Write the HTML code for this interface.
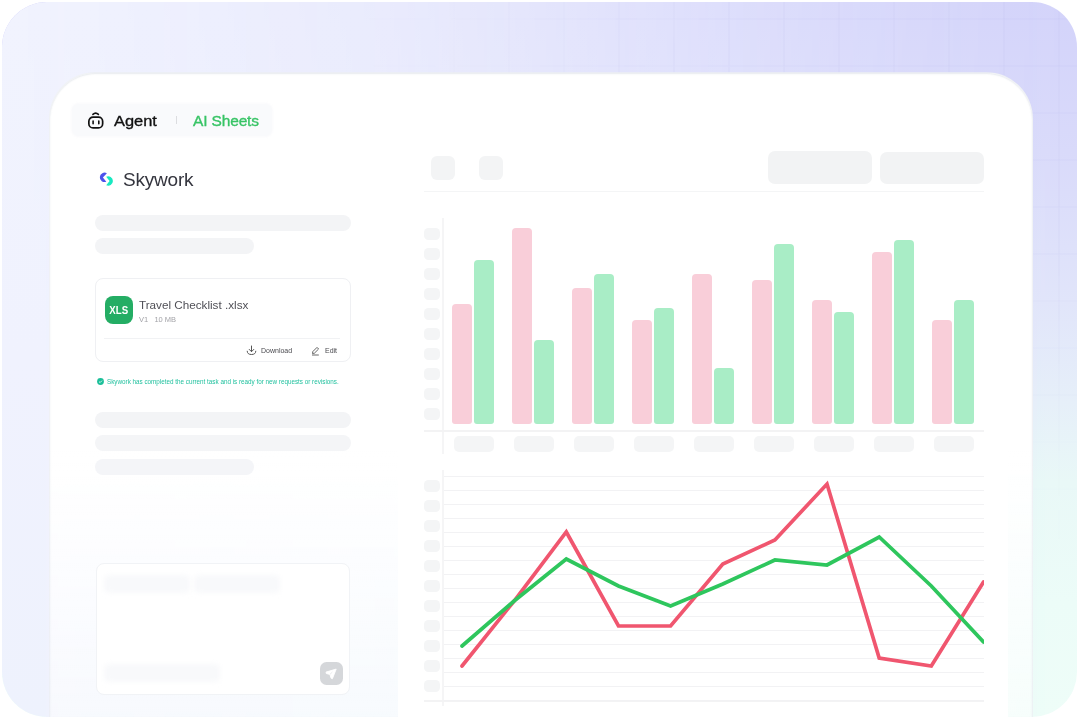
<!DOCTYPE html>
<html>
<head>
<meta charset="utf-8">
<style>
*{margin:0;padding:0;box-sizing:border-box;}
html,body{width:1080px;height:720px;overflow:hidden;background:#fff;}
body{position:relative;font-family:"Liberation Sans",sans-serif;}
.abs{position:absolute;}
.outer{left:2px;top:2px;width:1075px;height:715px;border-radius:45px;overflow:hidden;
  background:linear-gradient(to bottom, #d3d3fa 0px, #d9dafa 150px, #e1e5fa 300px, #e6eff9 400px, #e9f8f7 480px, #ecfcf8 600px, #eefdf8 715px);}
.leftov{left:2px;top:2px;width:1075px;height:715px;border-radius:45px;overflow:hidden;
  background:linear-gradient(to bottom, #f1f3fe 0%, #f0f2fe 50%, #eef2fd 100%);
  -webkit-mask-image:linear-gradient(to right, #000 0%, rgba(0,0,0,0.75) 35%, rgba(0,0,0,0.2) 80%, transparent 100%);}
.grid{left:2px;top:2px;width:1075px;height:715px;border-radius:45px;overflow:hidden;
  background-image:linear-gradient(to right, rgba(110,110,190,0.05) 1px, transparent 1px),
                   linear-gradient(to bottom, rgba(110,110,190,0.04) 1px, transparent 1px);
  background-size:55px 47px;background-position:11.5px 16.5px;
  -webkit-mask-image:radial-gradient(ellipse 750px 560px at 100% 0%, #000 45%, transparent 100%);}
.card{left:49px;top:72px;width:984px;height:645px;border-radius:47px 47px 0 0;
  border:1px solid rgba(226,229,236,0.5);border-bottom:none;background-clip:padding-box;
  background:linear-gradient(to bottom,#fff 0px,#fff 378px,rgba(255,255,255,0.55) 645px);
  box-shadow:inset 0 1px 1.5px rgba(205,210,220,0.45);}
.chartpanel{left:398px;top:140px;width:610px;height:580px;background:#fff;}
.tabbar{left:72px;top:103.5px;width:200px;height:32.5px;border-radius:7px;background:#f9fafc;box-shadow:0 0 2px 0.5px rgba(249,250,252,0.9);}
.tab{font-size:15.5px;line-height:16px;top:113px;-webkit-text-stroke:0.35px currentColor;}
.sk{background:#f3f4f6;border-radius:8px;height:16px;}
.filecard{left:95px;top:278px;width:256px;height:84px;border:1px solid #eff0f3;border-radius:8px;background:#fff;}
.ylab{background:#f4f5f6;border-radius:4.5px;width:16px;height:12px;left:424px;}
.xlab{background:#f4f5f6;border-radius:5px;width:40px;height:16px;top:436px;}
.bar{border-radius:4px 4px 3px 3px;width:20px;}
.p{background:#f9ced9;}
.g{background:#a9edc6;}
</style>
</head>
<body>
<div class="abs outer"></div>
<div class="abs leftov"></div>
<div class="abs grid"></div>
<div class="abs card"></div>
<div class="abs chartpanel"></div>

<!-- tab bar -->
<div class="abs tabbar"></div>
<svg class="abs" style="left:86px;top:110px" width="20" height="20" viewBox="0 0 20 20">
  <path d="M6.9 4.4 A4 4 0 0 1 12.4 4.4" fill="none" stroke="#111" stroke-width="1.6" stroke-linecap="round"/>
  <rect x="2.85" y="7.05" width="13.8" height="10.9" rx="4.2" fill="none" stroke="#111" stroke-width="1.7"/>
  <rect x="6.3" y="10.2" width="1.6" height="4.3" rx="0.8" fill="#111"/>
  <rect x="12" y="10.2" width="1.6" height="4.3" rx="0.8" fill="#111"/>
</svg>
<div class="abs tab" style="left:114px;color:#111;transform:scaleX(1.06);transform-origin:0 0;">Agent</div>
<div class="abs" style="left:176px;top:116px;width:1px;height:8px;background:#dcdde0;"></div>
<div class="abs tab" style="left:193px;color:#38c466;letter-spacing:-0.15px;">AI Sheets</div>

<!-- logo -->
<svg class="abs" style="left:96px;top:168px" width="22" height="22" viewBox="96 168 22 22">
  <path d="M106.9 173.3 A4.7 4.7 0 1 0 106.3 181.7 L102.9 177.5 Z" fill="#4c52ec"/>
  <path d="M106.2 176.8 A4.7 4.7 0 1 1 106.2 185.3 L109.6 181.05 Z" fill="#17e9c1"/>
</svg>
<div class="abs" style="left:123px;top:170px;font-size:19px;line-height:20px;color:#34353e;letter-spacing:-0.2px;">Skywork</div>

<!-- skeleton top -->
<div class="abs sk" style="left:95px;top:215px;width:256px;"></div>
<div class="abs sk" style="left:95px;top:238px;width:159px;"></div>

<!-- file card -->
<div class="abs filecard"></div>
<div class="abs" style="left:105px;top:296px;width:28px;height:28px;border-radius:8px;background:#24ad64;color:#fff;font-weight:bold;font-size:11px;line-height:29px;text-align:center;"><span style="display:inline-block;transform:scaleX(0.88);">XLS</span></div>
<div class="abs" style="left:139px;top:298.7px;font-size:11.7px;line-height:12px;color:#505057;">Travel Checklist .xlsx</div>
<div class="abs" style="left:139px;top:315.5px;font-size:7.5px;line-height:8px;color:#a3a3a8;">V1 &nbsp;&nbsp;10 MB</div>
<div class="abs" style="left:104px;top:338px;width:236px;height:1px;background:#f1f2f4;"></div>
<svg class="abs" style="left:246px;top:345px" width="11" height="11" viewBox="0 0 11 11">
  <path d="M5.5 1 V6.5 M3.2 4.4 L5.5 6.7 L7.8 4.4" fill="none" stroke="#555" stroke-width="1" stroke-linecap="round" stroke-linejoin="round"/>
  <path d="M1.2 6.2 Q1.2 9.5 5.5 9.5 Q9.8 9.5 9.8 6.2" fill="none" stroke="#555" stroke-width="1" stroke-linecap="round"/>
</svg>
<div class="abs" style="left:261px;top:347px;font-size:7px;line-height:8px;color:#4a4a4f;">Download</div>
<svg class="abs" style="left:311px;top:346px" width="9" height="10" viewBox="0 0 9 10">
  <path d="M1.5 7.5 L1.8 5.6 L6 1.4 L7.6 3 L3.4 7.2 Z" fill="none" stroke="#555" stroke-width="0.9" stroke-linejoin="round"/>
  <path d="M1 9 H7.8" stroke="#555" stroke-width="0.9"/>
</svg>
<div class="abs" style="left:325px;top:347px;font-size:7px;line-height:8px;color:#4a4a4f;">Edit</div>

<!-- status -->
<svg class="abs" style="left:97px;top:377.7px" width="7" height="7" viewBox="0 0 7 7">
  <circle cx="3.5" cy="3.5" r="3.4" fill="#1bbf99"/>
  <path d="M2 3.6 L3.1 4.6 L5 2.6" fill="none" stroke="#fff" stroke-width="0.8"/>
</svg>
<div class="abs" style="left:107px;top:378px;font-size:6.3px;line-height:7px;color:#22c19f;white-space:nowrap;">Skywork has completed the current task and is ready for new requests or revisions.</div>

<!-- skeleton bottom -->
<div class="abs sk" style="left:95px;top:412px;width:256px;"></div>
<div class="abs sk" style="left:95px;top:435px;width:256px;background:#f4f5f7;"></div>
<div class="abs sk" style="left:95px;top:459px;width:159px;background:#f4f5f8;"></div>

<!-- input box -->
<div class="abs" style="left:96px;top:563px;width:254px;height:132px;border:1px solid #f1f3f6;border-radius:8px;background:#fff;"></div>
<div class="abs" style="left:104px;top:575px;width:86px;height:18px;border-radius:5px;background:#f8f9fb;filter:blur(2.5px);"></div>
<div class="abs" style="left:194px;top:575px;width:86px;height:18px;border-radius:5px;background:#f8f9fb;filter:blur(2.5px);"></div>
<div class="abs" style="left:104px;top:664px;width:116px;height:18px;border-radius:5px;background:#f8f9fb;filter:blur(2.5px);"></div>
<div class="abs" style="left:320px;top:662px;width:23px;height:23px;border-radius:6.5px;background:#d5d7da;"></div>
<svg class="abs" style="left:320px;top:662px" width="23" height="23" viewBox="0 0 23 23">
  <path d="M16.2 7.1 L6 10.1 L6.3 11.5 L9.9 12.4 L11.1 16.2 L12.4 16.7 Z" fill="#fff" stroke="#fff" stroke-width="0.9" stroke-linejoin="round"/><path d="M9.9 12.4 L12.4 10" stroke="#dcdde0" stroke-width="0.6"/>
</svg>

<!-- chart header -->
<div class="abs" style="left:431px;top:156px;width:24px;height:24px;border-radius:6px;background:#f3f4f5;"></div>
<div class="abs" style="left:479px;top:156px;width:24px;height:24px;border-radius:6px;background:#f3f4f5;"></div>
<div class="abs" style="left:768px;top:151px;width:104px;height:33px;border-radius:7px;background:#f2f3f4;"></div>
<div class="abs" style="left:880px;top:152px;width:104px;height:32px;border-radius:7px;background:#f2f3f4;"></div>
<div class="abs" style="left:424px;top:191px;width:560px;height:1px;background:#f4f5f6;"></div>

<!-- bar chart -->
<div class="abs" style="left:442px;top:218px;width:2px;height:236px;background:#f5f5f6;"></div>
<div class="abs" style="left:424px;top:430px;width:560px;height:2px;background:#f3f3f4;"></div>
<div id="bars">
<div class="abs ylab" style="top:228px"></div>
<div class="abs ylab" style="top:248px"></div>
<div class="abs ylab" style="top:268px"></div>
<div class="abs ylab" style="top:288px"></div>
<div class="abs ylab" style="top:308px"></div>
<div class="abs ylab" style="top:328px"></div>
<div class="abs ylab" style="top:348px"></div>
<div class="abs ylab" style="top:368px"></div>
<div class="abs ylab" style="top:388px"></div>
<div class="abs ylab" style="top:408px"></div>
<div class="abs bar p" style="left:452px;top:304px;height:120px"></div>
<div class="abs bar g" style="left:474px;top:260px;height:164px"></div>
<div class="abs xlab" style="left:454px"></div>
<div class="abs bar p" style="left:512px;top:228px;height:196px"></div>
<div class="abs bar g" style="left:534px;top:340px;height:84px"></div>
<div class="abs xlab" style="left:514px"></div>
<div class="abs bar p" style="left:572px;top:288px;height:136px"></div>
<div class="abs bar g" style="left:594px;top:274px;height:150px"></div>
<div class="abs xlab" style="left:574px"></div>
<div class="abs bar p" style="left:632px;top:320px;height:104px"></div>
<div class="abs bar g" style="left:654px;top:308px;height:116px"></div>
<div class="abs xlab" style="left:634px"></div>
<div class="abs bar p" style="left:692px;top:274px;height:150px"></div>
<div class="abs bar g" style="left:714px;top:368px;height:56px"></div>
<div class="abs xlab" style="left:694px"></div>
<div class="abs bar p" style="left:752px;top:280px;height:144px"></div>
<div class="abs bar g" style="left:774px;top:244px;height:180px"></div>
<div class="abs xlab" style="left:754px"></div>
<div class="abs bar p" style="left:812px;top:300px;height:124px"></div>
<div class="abs bar g" style="left:834px;top:312px;height:112px"></div>
<div class="abs xlab" style="left:814px"></div>
<div class="abs bar p" style="left:872px;top:252px;height:172px"></div>
<div class="abs bar g" style="left:894px;top:240px;height:184px"></div>
<div class="abs xlab" style="left:874px"></div>
<div class="abs bar p" style="left:932px;top:320px;height:104px"></div>
<div class="abs bar g" style="left:954px;top:300px;height:124px"></div>
<div class="abs xlab" style="left:934px"></div>
</div><!--/bars-->

<!-- line chart -->
<div class="abs" style="left:442px;top:470px;width:2px;height:236px;background:#f5f5f6;"></div>
<div class="abs" style="left:424px;top:700px;width:560px;height:2px;background:#f3f3f4;"></div>
<div id="lc">
<div class="abs ylab" style="top:480px"></div>
<div class="abs ylab" style="top:500px"></div>
<div class="abs ylab" style="top:520px"></div>
<div class="abs ylab" style="top:540px"></div>
<div class="abs ylab" style="top:560px"></div>
<div class="abs ylab" style="top:580px"></div>
<div class="abs ylab" style="top:600px"></div>
<div class="abs ylab" style="top:620px"></div>
<div class="abs ylab" style="top:640px"></div>
<div class="abs ylab" style="top:660px"></div>
<div class="abs ylab" style="top:680px"></div>
<svg class="abs" style="left:0;top:0" width="1080" height="720" viewBox="0 0 1080 720">
<defs><clipPath id="cp"><rect x="444" y="460" width="540" height="260"/></clipPath></defs>
<line x1="444" y1="476.5" x2="984" y2="476.5" stroke="#f2f2f4" stroke-width="1"/>
<line x1="444" y1="490.5" x2="984" y2="490.5" stroke="#f2f2f4" stroke-width="1"/>
<line x1="444" y1="504.5" x2="984" y2="504.5" stroke="#f2f2f4" stroke-width="1"/>
<line x1="444" y1="518.5" x2="984" y2="518.5" stroke="#f2f2f4" stroke-width="1"/>
<line x1="444" y1="532.5" x2="984" y2="532.5" stroke="#f2f2f4" stroke-width="1"/>
<line x1="444" y1="546.5" x2="984" y2="546.5" stroke="#f2f2f4" stroke-width="1"/>
<line x1="444" y1="560.5" x2="984" y2="560.5" stroke="#f2f2f4" stroke-width="1"/>
<line x1="444" y1="574.5" x2="984" y2="574.5" stroke="#f2f2f4" stroke-width="1"/>
<line x1="444" y1="588.5" x2="984" y2="588.5" stroke="#f2f2f4" stroke-width="1"/>
<line x1="444" y1="602.5" x2="984" y2="602.5" stroke="#f2f2f4" stroke-width="1"/>
<line x1="444" y1="616.5" x2="984" y2="616.5" stroke="#f2f2f4" stroke-width="1"/>
<line x1="444" y1="630.5" x2="984" y2="630.5" stroke="#f2f2f4" stroke-width="1"/>
<line x1="444" y1="644.5" x2="984" y2="644.5" stroke="#f2f2f4" stroke-width="1"/>
<line x1="444" y1="658.5" x2="984" y2="658.5" stroke="#f2f2f4" stroke-width="1"/>
<line x1="444" y1="672.5" x2="984" y2="672.5" stroke="#f2f2f4" stroke-width="1"/>
<line x1="444" y1="686.5" x2="984" y2="686.5" stroke="#f2f2f4" stroke-width="1"/>
<line x1="444" y1="700.5" x2="984" y2="700.5" stroke="#f2f2f4" stroke-width="1"/>
<g clip-path="url(#cp)"><polyline points="462.0,666 514.1,601 566.3,532 618.5,626 670.6,626 722.8,564 774.9,540 827.0,484 879.2,658 931.3,666 983.5,582" fill="none" stroke="#f0566f" stroke-width="3.7" stroke-linejoin="miter" stroke-linecap="round"/>
<polyline points="462.0,646 514.1,601 566.3,559 618.5,586 670.6,606 722.8,584 774.9,560 827.0,565 879.2,537 931.3,586 983.5,642" fill="none" stroke="#2ec65d" stroke-width="3.7" stroke-linejoin="miter" stroke-linecap="round"/></g>
</svg>
</div><!--/lc-->
</body>
</html>
